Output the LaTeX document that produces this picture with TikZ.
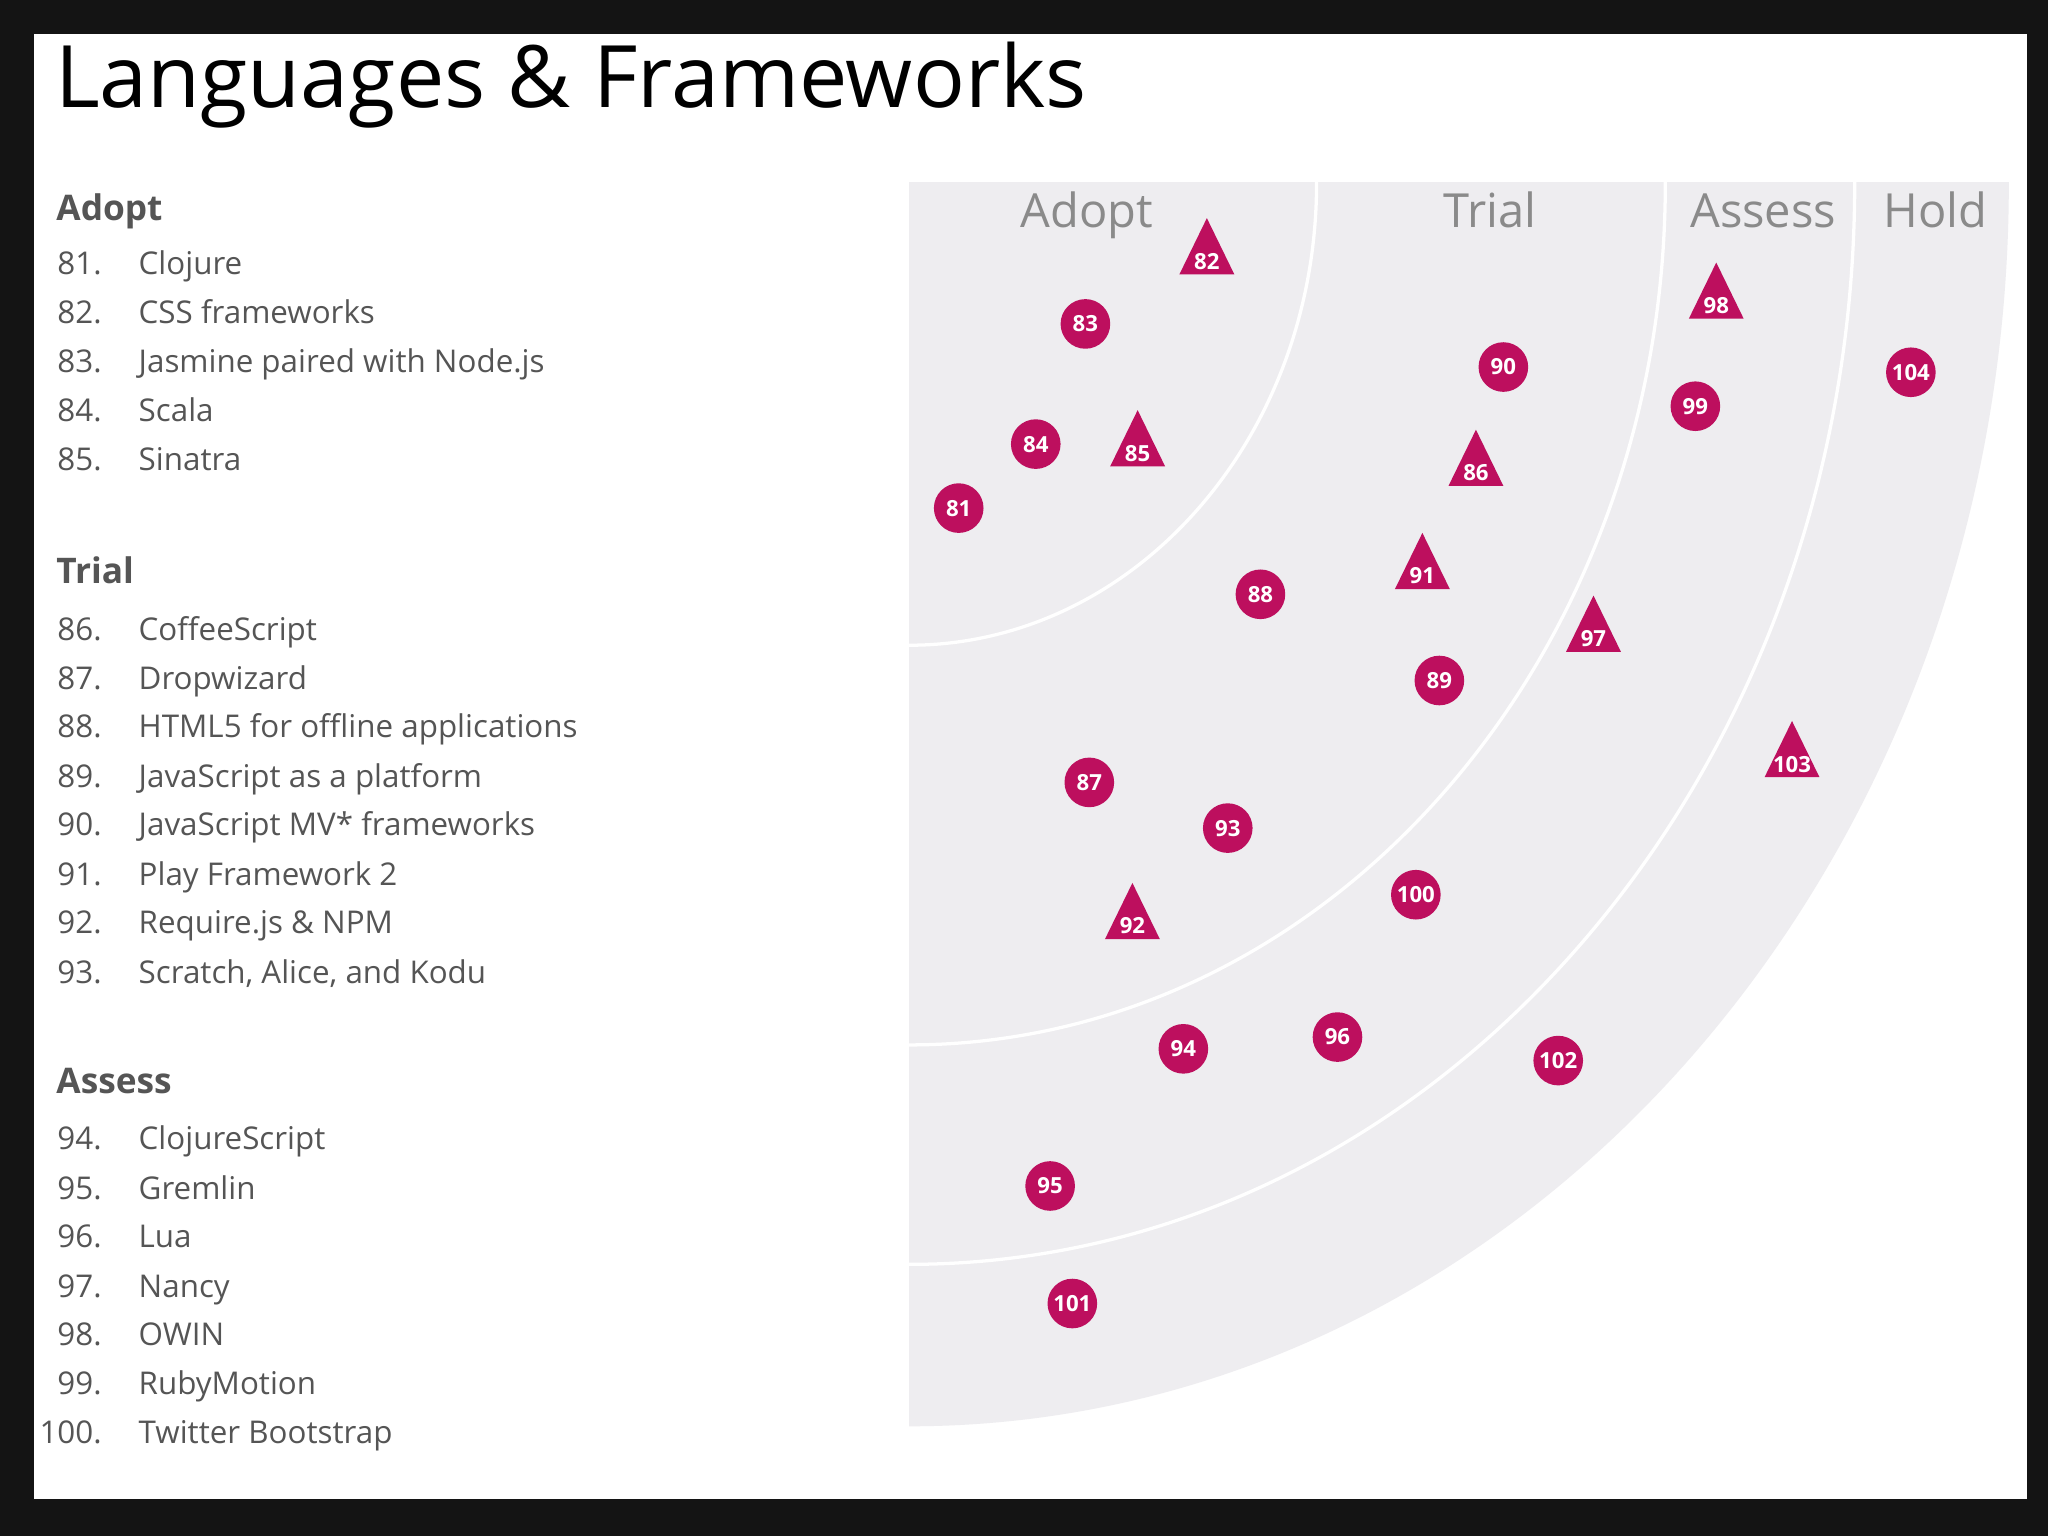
\documentclass[tikz,border=0pt]{standalone}
\usepackage{fontspec}
\setmainfont{Open Sans}
\definecolor{blip}{HTML}{BD0F5E}
\definecolor{radar}{HTML}{EEEDF0}
\definecolor{txt}{HTML}{555555}
\definecolor{hdr}{HTML}{8A8A8A}
\begin{document}
\begin{tikzpicture}[x=1pt,y=-1pt,
  item/.style={anchor=base west,inner sep=0,text=txt,font=\fontsize{24}{26}\selectfont},
  num/.style={anchor=base east,inner sep=0,text=txt,font=\fontsize{24}{26}\selectfont},
  grp/.style={anchor=base west,inner sep=0,text=txt,font=\fontsize{27}{29}\selectfont\bfseries},
  rhead/.style={anchor=base,inner sep=0,text=hdr,font=\fontsize{36}{38}\selectfont},
  cblip/.style={circle,fill=blip,minimum size=38pt,inner sep=0,text=white,font=\fontsize{17}{18}\selectfont\bfseries},
  tlabel/.style={inner sep=0,text=white,font=\fontsize{17}{18}\selectfont\bfseries}]
\useasboundingbox (0,0) rectangle (1568,1176);
\fill[black!92] (0,0) rectangle (1568,1176);
\fill[white] (26,26) rectangle (1552,1148);
\node[anchor=base west,inner sep=0,font=\fontsize{66}{70}\selectfont] (title) at (42,82) {Languages \& Frameworks};
% radar
\begin{scope}
\clip (696,140) rectangle (1538,1092);
\fill[radar] (696,140) ellipse [x radius=842, y radius=952];
\draw[white,line width=2.5pt] (696,140) ellipse [x radius=312, y radius=354];
\draw[white,line width=2.5pt] (696,140) ellipse [x radius=579, y radius=660];
\draw[white,line width=2.5pt] (696,140) ellipse [x radius=724, y radius=828];
\end{scope}
\node[rhead] (hA) at (832,174) {Adopt};
\node[rhead] (hT) at (1141,174) {Trial};
\node[rhead] (hS) at (1350,174) {Assess};
\node[rhead] (hH) at (1482,174) {Hold};
\foreach \n/\x/\y in {83/831/248,90/1151/281,104/1463/285,99/1298/311,84/793/340,81/734/389,88/965/455,89/1102/521,87/834/599,93/940/634,100/1084/685,94/906/803,96/1024/794,102/1193/812,95/804/908,101/821/998}
  \node[cblip] (b\n) at (\x,\y) {\n};
\foreach \n/\x/\y in {82/924/210,98/1314/244,85/871/357,86/1130/372,91/1089/451,97/1220/499,103/1372/595,92/867/719}{
  \fill[blip] (\x-21,\y) -- (\x,\y-43) -- (\x+21,\y) -- cycle;
  \node[tlabel] (b\n) at (\x,\y-10) {\n};
}
% lists
\node[grp] (gA) at (43,169) {Adopt};
\node[grp] (gT) at (43,447) {Trial};
\node[grp] (gS) at (43,837) {Assess};
\foreach \n/\t/\y in {81/Clojure/210,82/CSS frameworks/248,83/Jasmine paired with Node.js/285,84/Scala/323,85/Sinatra/360,
86/CoffeeScript/490,87/Dropwizard/528,88/HTML5 for offline applications/565,89/JavaScript as a platform/603,90/JavaScript MV* frameworks/640,91/Play Framework 2/678,92/Require.js \& NPM/715,93/{Scratch, Alice, and Kodu}/753,
94/ClojureScript/880,95/Gremlin/918,96/Lua/955,97/Nancy/993,98/OWIN/1030,99/RubyMotion/1068,100/Twitter Bootstrap/1105}{
  \node[num] (n\n) at (78,\y) {\n.};
  \node[item] (t\n) at (106,\y) {\t};
}
\end{tikzpicture}
\end{document}
